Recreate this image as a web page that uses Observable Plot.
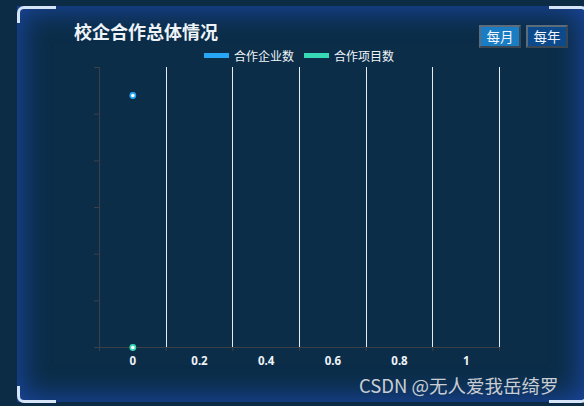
<!DOCTYPE html>
<html>
<head>
<meta charset="utf-8">
<script src="https://cdn.jsdelivr.net/npm/d3@7"></script>
<script src="https://cdn.jsdelivr.net/npm/@observablehq/plot@0.6"></script>
<style>
  html, body { margin: 0; padding: 0; width: 584px; height: 406px; overflow: hidden; background: #0b2c44; font-family: "Noto Sans CJK SC", "Noto Sans", sans-serif; }
  #panel { position: absolute; left: 17px; top: 6px; width: 568px; height: 396px; background: #0b2d48; box-shadow: inset 0 0 28px 4px #1b47a2; }
  .corner { position: absolute; width: 36px; height: 14px; border-color: #d6e4f7; border-style: solid; border-width: 0; }
  #title { position: absolute; left: 74px; top: 18px; font-size: 18px; font-weight: bold; color: #eef3f8; letter-spacing: 0px; }
  .btn { position: absolute; top: 25px; width: 38px; height: 19px; border: 2px solid #5d6c7b; border-right-color: #3a4652; border-bottom-color: #3a4652; color: #f2f6fa; font-size: 13.5px; line-height: 19px; text-align: center; }
  #legend { position: absolute; top: 47px; left: 204px; font-size: 12px; color: #f0f4f8; display: flex; align-items: center; }
  .sw { display: inline-block; width: 25px; height: 5px; margin-right: 5px; }
  .li { display: flex; align-items: center; margin-right: 10px; }
  #chart { position: absolute; left: 0; top: 0; }
  #wm { position: absolute; left: 359px; top: 372px; font-size: 18.5px; color: #c9ced4; }
</style>
</head>
<body>
<div id="panel"></div>
<div class="corner" style="left:17px;top:6px;border-top-width:3px;border-left-width:3px;border-top-left-radius:7px;"></div>
<div class="corner" style="left:17px;top:386px;border-bottom-width:3px;border-left-width:3px;border-bottom-left-radius:7px;"></div>
<div class="corner" style="left:549px;top:6px;border-top-width:3px;border-right-width:3px;border-top-right-radius:7px;"></div>
<div class="corner" style="left:549px;top:386px;border-bottom-width:3px;border-right-width:3px;border-bottom-right-radius:7px;"></div>
<div id="title">校企合作总体情况</div>
<div class="btn" style="left:479px;background:#1a7dc3;">每月</div>
<div class="btn" style="left:526px;background:#0c4a8b;">每年</div>
<div id="legend"></div>
<div id="chart"></div>
<div id="wm">CSDN @无人爱我岳绮罗</div>
<script>
// categories (x axis labels)
const categories = ["0", "0.2", "0.4", "0.6", "0.8", "1"];
// series
const seriesNames = ["合作企业数", "合作项目数"];
const seriesColors = ["#26a6f4", "#36d8b6"];
const companyValues = [5.4];   // 合作企业数 (first category only)
const projectValues = [0];     // 合作项目数 (first category only)
// y axis ticks (labels hidden)
const yTicks = [0, 1, 2, 3, 4, 5, 6];

// legend
const legend = document.getElementById("legend");
seriesNames.forEach((n, i) => {
  const d = document.createElement("div");
  d.className = "li";
  d.innerHTML = `<span class="sw" style="background:${seriesColors[i]}"></span>${n}`;
  legend.appendChild(d);
});

const idx = categories.map((c, i) => i);
const bounds = d3.range(categories.length + 1).map(i => i - 0.5);
const points = [
  ...companyValues.map((v, i) => ({x: i, y: v, s: 0})),
  ...projectValues.map((v, i) => ({x: i, y: v, s: 1}))
];

const plot = Plot.plot({
  width: 584,
  height: 406,
  marginLeft: 99,
  marginRight: 85,
  marginTop: 67,
  marginBottom: 59,
  style: {background: "transparent", color: "#eef3f8", fontFamily: "'Noto Sans', 'Noto Sans CJK SC', sans-serif", overflow: "visible"},
  x: {type: "linear", domain: [-0.5, categories.length - 0.5], label: null},
  y: {domain: [0, 6], label: null},
  marks: [
    Plot.ruleX(bounds.slice(1), {y1: 0, y2: 6, stroke: "#e6ecf1", strokeWidth: 1, strokeOpacity: 1, shapeRendering: "crispEdges"}),
    Plot.axisY({ticks: yTicks, tickSize: 5, tickFormat: () => "", label: null, stroke: "#3a4048", strokeOpacity: 1}),
    Plot.ruleX([-0.5], {y1: 0, y2: 6, stroke: "#3a4048", shapeRendering: "crispEdges"}),
    Plot.ruleY([0], {x1: -0.5, x2: categories.length - 0.5, stroke: "#3a4048", shapeRendering: "crispEdges"}),
    Plot.axisX({ticks: bounds, tickSize: 4, tickFormat: () => "", label: null, stroke: "#3a4048", strokeOpacity: 1}),
    Plot.axisX({ticks: idx, tickSize: 0, tickPadding: 9, tickFormat: i => categories[i], label: null, fontSize: 11.5, fontWeight: "bold", fill: "#eef3f8"}),
    Plot.dot(points, {x: "x", y: "y", r: 2.6, fill: "#ffffff", stroke: d => seriesColors[d.s], strokeWidth: 1.6})
  ]
});
document.getElementById("chart").appendChild(plot);
</script>
</body>
</html>
